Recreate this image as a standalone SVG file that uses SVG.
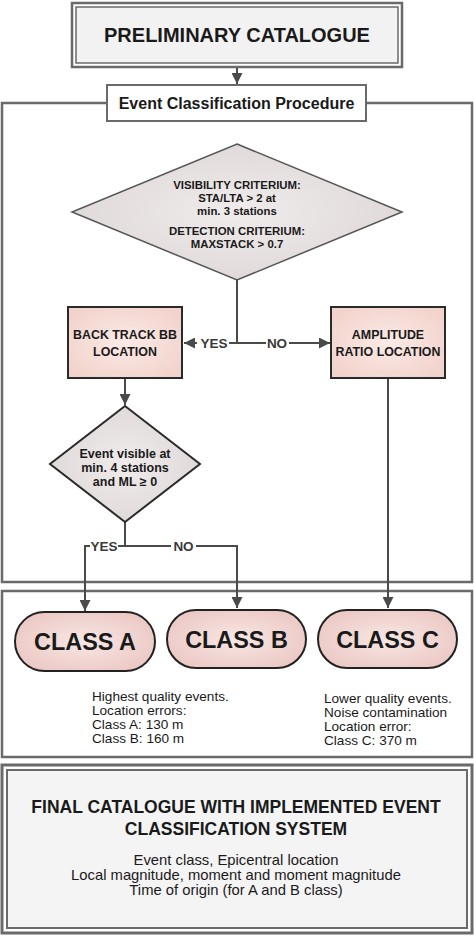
<svg xmlns="http://www.w3.org/2000/svg" width="474" height="937" viewBox="0 0 474 937">
<defs>
<style>
.frame{fill:none;stroke:#6a6a6a;stroke-width:2.5}
.ln{fill:none;stroke:#4a4a4a;stroke-width:2}
.b{font-family:"Liberation Sans",Arial,sans-serif;font-weight:bold;fill:#1a1a1a;text-anchor:middle}
.r{font-family:"Liberation Sans",Arial,sans-serif;fill:#1a1a1a}
.lbl{font-family:"Liberation Sans",Arial,sans-serif;font-weight:bold;fill:#3a3a3a;font-size:13.5px}
</style>
<radialGradient id="pill" cx="50%" cy="50%" r="60%">
<stop offset="0" stop-color="#f8e7e4"/>
<stop offset="1" stop-color="#ebc7c3"/>
</radialGradient>
<radialGradient id="box" cx="50%" cy="50%" r="60%">
<stop offset="0" stop-color="#fbeae6"/>
<stop offset="1" stop-color="#f2d3cc"/>
</radialGradient>
<radialGradient id="dia" cx="50%" cy="50%" r="60%">
<stop offset="0" stop-color="#f1ecec"/>
<stop offset="1" stop-color="#dcd6d6"/>
</radialGradient>
<marker id="ah" viewBox="0 0 10 10" refX="10" refY="5" markerWidth="5.5" markerHeight="5.5" orient="auto">
<path d="M0,0 L10,5 L0,10 Z" fill="#4a4a4a"/>
</marker>
</defs>
<rect width="474" height="937" fill="#ffffff"/>

<!-- frames -->
<rect x="2" y="103" width="470" height="479" class="frame"/>
<rect x="2" y="591" width="470" height="166" class="frame"/>

<g id="connectors">
<line x1="237" y1="67" x2="237" y2="84" class="ln" marker-end="url(#ah)"/>
<line x1="237" y1="280" x2="237" y2="343" class="ln"/>
<line x1="229" y1="343" x2="266" y2="343" class="ln"/>
<line x1="197" y1="343" x2="184" y2="343" class="ln" marker-end="url(#ah)"/>
<line x1="289" y1="343" x2="330" y2="343" class="ln" marker-end="url(#ah)"/>
<line x1="125" y1="378" x2="125" y2="405" class="ln" marker-end="url(#ah)"/>
<line x1="125" y1="522" x2="125" y2="546" class="ln"/>
<line x1="118" y1="546" x2="125" y2="546" class="ln"/>
<line x1="125" y1="546" x2="171" y2="546" class="ln"/>
<polyline points="196,546 237,546 237,608" class="ln" marker-end="url(#ah)"/>
<polyline points="90,546 85,546 85,611" class="ln" marker-end="url(#ah)"/>
<line x1="388" y1="378" x2="388" y2="608" class="ln" marker-end="url(#ah)"/>
<text x="214" y="348" class="lbl" text-anchor="middle">YES</text>
<text x="277" y="348" class="lbl" text-anchor="middle">NO</text>
<text x="104" y="551" class="lbl" text-anchor="middle">YES</text>
<text x="183.5" y="551" class="lbl" text-anchor="middle">NO</text>
</g>

<g id="preliminary">
<rect x="72" y="3" width="330" height="64" fill="#ffffff" stroke="#6a6a6a" stroke-width="2.5"/>
<rect x="76" y="7" width="322" height="56" fill="#f2f2f2" stroke="#6a6a6a" stroke-width="1.5"/>
<text x="237" y="42" class="b" font-size="20">PRELIMINARY CATALOGUE</text>
</g>

<g id="procedure">
<rect x="107" y="85" width="259" height="36" fill="#ffffff" stroke="#6a6a6a" stroke-width="2"/>
<text x="236.5" y="109" class="b" font-size="16">Event Classification Procedure</text>
</g>

<g id="criteria">
<polygon points="237,144 402,212 237,280 72,212" fill="url(#dia)" stroke="#555" stroke-width="1.5"/>
<text x="237" y="189" class="b" font-size="11.4">VISIBILITY CRITERIUM:</text>
<text x="237" y="202" class="b" font-size="11.4">STA/LTA &gt; 2 at</text>
<text x="237" y="215" class="b" font-size="11.4">min. 3 stations</text>
<text x="237" y="235" class="b" font-size="11.4">DETECTION CRITERIUM:</text>
<text x="237" y="248" class="b" font-size="11.4">MAXSTACK &gt; 0.7</text>
</g>

<g id="backtrack">
<rect x="68" y="307" width="114" height="71" fill="url(#box)" stroke="#2a2a2a" stroke-width="2"/>
<text x="125" y="339" class="b" font-size="12.4">BACK TRACK BB</text>
<text x="125" y="356" class="b" font-size="12.4">LOCATION</text>
</g>

<g id="amplitude">
<rect x="331" y="307" width="114" height="71" fill="url(#box)" stroke="#2a2a2a" stroke-width="2"/>
<text x="388" y="339" class="b" font-size="12.4">AMPLITUDE</text>
<text x="388" y="356" class="b" font-size="12.4">RATIO LOCATION</text>
</g>

<g id="visible">
<polygon points="125,406 200,464 125,522 50,464" fill="url(#dia)" stroke="#2a2a2a" stroke-width="2"/>
<text x="125" y="458" class="b" font-size="12.5">Event visible at</text>
<text x="125" y="472" class="b" font-size="12.5">min. 4 stations</text>
<text x="125" y="486" class="b" font-size="12.5">and ML ≥ 0</text>
</g>

<g id="classA">
<rect x="15" y="612" width="140" height="59" rx="29.5" fill="url(#pill)" stroke="#222" stroke-width="2"/>
<text x="85" y="650" class="b" font-size="23.4">CLASS A</text>
</g>
<g id="classB">
<rect x="167" y="610" width="139" height="58" rx="29" fill="url(#pill)" stroke="#222" stroke-width="2"/>
<text x="236.5" y="647.5" class="b" font-size="23.4">CLASS B</text>
</g>
<g id="classC">
<rect x="318" y="610" width="139" height="58" rx="29" fill="url(#pill)" stroke="#222" stroke-width="2"/>
<text x="387.5" y="647.5" class="b" font-size="23.4">CLASS C</text>
</g>

<g id="noteAB">
<text class="r" font-size="13.6"><tspan x="92" y="701">Highest quality events.</tspan><tspan x="92" y="715">Location errors:</tspan><tspan x="92" y="729">Class A: 130 m</tspan><tspan x="92" y="743">Class B: 160 m</tspan></text>
</g>
<g id="noteC">
<text class="r" font-size="13.6"><tspan x="324" y="703">Lower quality events.</tspan><tspan x="324" y="717">Noise contamination</tspan><tspan x="324" y="731">Location error:</tspan><tspan x="324" y="745">Class C: 370 m</tspan></text>
</g>

<g id="final">
<rect x="2" y="765" width="470" height="168" fill="#ffffff" stroke="#6a6a6a" stroke-width="3"/>
<rect x="7" y="770" width="460" height="158" fill="#f4f4f4" stroke="#6a6a6a" stroke-width="2"/>
<text x="236" y="813" class="b" font-size="17.5">FINAL CATALOGUE WITH IMPLEMENTED EVENT</text>
<text x="236" y="835" class="b" font-size="17.5">CLASSIFICATION SYSTEM</text>
<text class="r" font-size="14.8" text-anchor="middle"><tspan x="236" y="864.5">Event class, Epicentral location</tspan><tspan x="236" y="879.5">Local magnitude, moment and moment magnitude</tspan><tspan x="236" y="894.5">Time of origin (for A and B class)</tspan></text>
</g>
</svg>
